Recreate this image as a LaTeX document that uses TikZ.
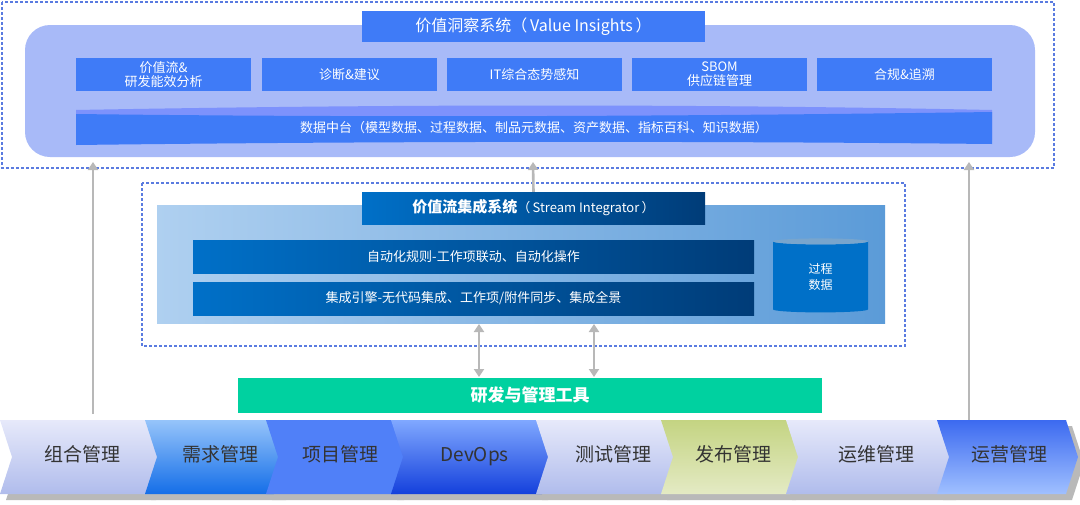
\documentclass[tikz,border=0pt]{standalone}
\usepackage{fontspec}
\setmainfont{Noto Sans CJK SC}
\usetikzlibrary{arrows.meta,shapes.geometric}
\definecolor{vblue}{HTML}{3F7BF7}
\definecolor{vlight}{HTML}{A8BAF8}
\definecolor{dblue}{HTML}{0070C8}
\definecolor{ddark}{HTML}{003C78}
\definecolor{lav}{HTML}{DCE0F8}
\definecolor{lavb}{HTML}{B0BCEC}
\definecolor{grn}{HTML}{00D1A0}
\definecolor{garr}{HTML}{B8B8B8}
\definecolor{dashc}{HTML}{5A7BE0}
\tikzset{
  dbox/.style={draw=dashc,dash pattern=on 3pt off 2pt,line width=1.2pt},
  tbox/.style={fill=vblue,text=white,font=\fontsize{13}{15}\selectfont,align=center,inner sep=0},
  sbar/.style={left color=dblue,right color=ddark,text=white,font=\fontsize{13}{15}\selectfont},
  garrow/.style={draw=garr,line width=2.6pt,-{Triangle[length=8pt,width=10pt]}},
  garrow2/.style={draw=garr,line width=2.6pt,{Triangle[length=8pt,width=10pt]}-{Triangle[length=8pt,width=10pt]}},
  chtext/.style={font=\fontsize{19}{21}\selectfont,text=black!80},
}
\newcommand{\chev}[5]{%
 \fill[gray!55] (#1+6,426)--(#2+6,426)--(#2+18,463)--(#2+6,500)--(#1+6,500)--(#1+18,463)--cycle;
 \path[#3] (#1,420)--(#2,420)--(#2+12,457)--(#2,494)--(#1,494)--(#1+12,457)--cycle;
 \node[chtext,#5] (#4) at ({(#1+#2)/2+8},457) {\strut #4};}
\begin{document}
\begin{tikzpicture}[x=1pt,y=-1pt]
\useasboundingbox (0,0) rectangle (1080,504);
% top system
\draw[dbox] (2,2) rectangle (1054,168);
\fill[vlight,rounded corners=25pt] (25,25) rectangle (1035,157);
\node[tbox,minimum width=343pt,minimum height=31pt,font=\fontsize{16}{18}\selectfont] (vi) at (533.5,26.5) {价值洞察系统（\,Value Insights\,）};
\foreach \a/\t [count=\i] in {76/{价值流\&\\研发能效分析},262/{诊断\&建议},447/{IT综合态势感知},632/{SBOM\\供应链管理},817/{合规\&追溯}}{
  \node[tbox,minimum width=175pt,minimum height=33pt,font=\fontsize{13}{14}\selectfont] (b\i) at (\a+87.5,74.5) {\t};}
\fill[blue!40!vblue!60!white] (76,110) .. controls (400,104) and (700,104) .. (992,110) -- (992,140) -- (76,140)--cycle;
\fill[vblue] (76,114) .. controls (400,118) and (700,116) .. (992,112) -- (992,144) .. controls (700,141) and (400,141) .. (76,145) -- cycle;
\node[text=white,font=\fontsize{13}{15}\selectfont] (dc) at (534,128) {数据中台（模型数据、过程数据、制品元数据、资产数据、指标百科、知识数据）};
% middle
\draw[dbox] (142,183) rectangle (905,346);
\fill[left color={rgb,255:red,175;green,208;blue,240},right color={rgb,255:red,91;green,155;blue,216}] (157,205) rectangle (885,323);
\node[sbar,minimum width=343pt,minimum height=32pt,font=\fontsize{15}{17}\selectfont\bfseries,inner sep=0] (si) at (533.5,208) {价值流集成系统\fontsize{13}{15}\selectfont\mdseries（\,Stream Integrator\,）};
\node[sbar,minimum width=561pt,minimum height=33pt,inner sep=0] (r1) at (473.5,256.5) {自动化规则-工作项联动、自动化操作};
\node[sbar,minimum width=561pt,minimum height=33pt,inner sep=0] (r2) at (473.5,298.5) {集成引擎-无代码集成、工作项/附件同步、集成全景};
\node[cylinder,shape border rotate=90,aspect=0.25,minimum width=95pt,minimum height=74pt,draw=none,
  cylinder uses custom fill,cylinder body fill=dblue,cylinder end fill={rgb,255:red,120;green,165;blue,205},text=white,align=center,font=\fontsize{12}{16}\selectfont,inner sep=0] (db) at (820.5,277) {过程\\数据};
% green
\node[fill=grn,text=white,minimum width=584pt,minimum height=35pt,inner sep=0,font=\fontsize{17}{19}\selectfont\bfseries] (tools) at (530,395.5) {研发与管理工具};
% arrows
\coordinate (a1s) at (93,414); \coordinate (a1e) at (93,162);
\coordinate (a2s) at (969,420); \coordinate (a2e) at (969,162);
\draw[garrow] (a1s) -- (a1e);
\draw[garrow] (a2s) -- (a2e);
\draw[garrow] (si.north) -- (533,162);
\draw[garrow2] (479,377) -- (479,324);
\draw[garrow2] (594,377) -- (594,324);
% chevrons
\chev{0}{150}{top color=lav!70!white,bottom color=lavb}{组合管理}{}
\chev{145}{280}{top color={rgb,255:red,150;green,196;blue,250},bottom color={rgb,255:red,20;green,110;blue,232}}{需求管理}{}
\chev{266}{398}{fill={rgb,255:red,80;green,128;blue,248}}{项目管理}{}
\chev{391}{542}{top color={rgb,255:red,128;green,168;blue,255},bottom color={rgb,255:red,20;green,64;blue,220}}{DevOps}{}
\chev{536}{674}{top color=lav!70!white,bottom color=lavb}{测试管理}{}
\chev{661}{790}{top color={rgb,255:red,196;green,212;blue,130},bottom color={rgb,255:red,228;green,234;blue,196}}{发布管理}{}
\chev{786}{950}{top color=lav!70!white,bottom color=lavb}{运维管理}{}
\chev{937}{1066}{top color={rgb,255:red,60;green,106;blue,240},bottom color={rgb,255:red,160;green,192;blue,255}}{运营管理}{}
\end{tikzpicture}
\end{document}
